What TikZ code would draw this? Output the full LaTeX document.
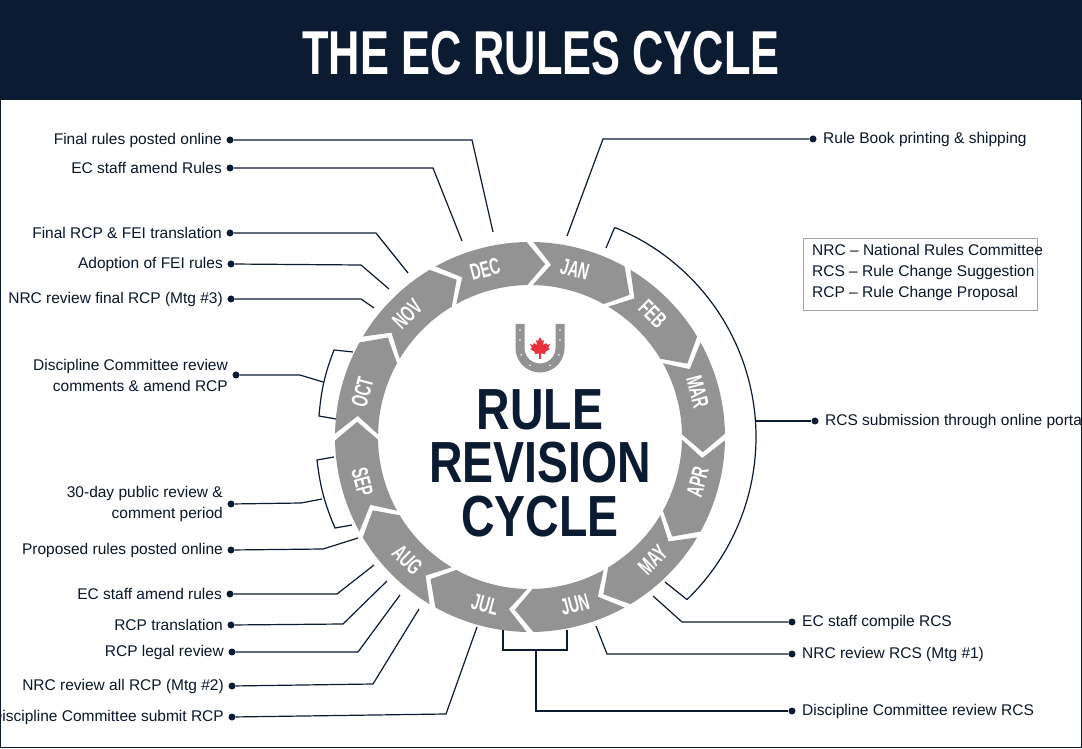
\documentclass[tikz,border=0pt]{standalone}
\usepackage{fontspec}
\usetikzlibrary{calc}
\setmainfont{Liberation Sans}
\newfontfamily\condb{Liberation Sans Bold}
\newfontfamily\lbl{Liberation Sans}
\definecolor{navy}{HTML}{0B1B31}
\definecolor{ringgray}{HTML}{939393}
\definecolor{leafred}{HTML}{E8313A}
\newcommand{\narrow}[2]{\scalebox{#1}[1]{#2}}
\begin{document}
\begin{tikzpicture}[x=1pt,y=1pt,
  conn/.style={draw=navy,line width=1.2pt},
  dotc/.style={circle,fill=navy,inner sep=0pt,minimum size=7pt},
  lbll/.style={anchor=east,font=\lbl\fontsize{15.5}{21}\selectfont,text=navy!85!black,align=right,inner sep=0pt},
  lblr/.style={anchor=west,font=\lbl\fontsize{15.5}{21}\selectfont,text=navy!85!black,align=left,inner sep=0pt},
  monthtxt/.style={font=\condb\fontsize{23}{23}\selectfont,text=white,inner sep=0pt}]
\useasboundingbox (0,0) rectangle (1082,748);
\fill[white] (0,0) rectangle (1082,748);
\fill[navy] (0,648) rectangle (1082,748);
\draw[navy,line width=1pt] (0.5,0.5) rectangle (1081.5,747.5);
\node[font=\condb\fontsize{62}{62}\selectfont,text=white] (title) at (541,695) {\narrow{0.7}{THE EC RULES CYCLE}};
% ring
\begin{scope}[shift={(530,311)}]
\foreach \m/\c/\r in {JAN/75/-15,FEB/45/-45,MAR/15/-75,APR/-15/75,MAY/-45/45,JUN/-75/15,JUL/-105/-15,AUG/-135/-45,SEP/-165/-75,OCT/165/75,NOV/135/45,DEC/105/15}{
  \fill[ringgray] (\c+14:195) arc[start angle=\c+14,end angle=\c-14,radius=195] -- (\c-20:173.5) -- (\c-14:152) arc[start angle=\c-14,end angle=\c+14,radius=152] -- (\c+8:173.5) -- cycle;
  \node[monthtxt,rotate=\r] (m\m) at (\c:173.5) {\narrow{0.62}{\m}};
}
\draw[conn] (68:226) arc[start angle=68,end angle=-46,radius=226];
\coordinate (arcS) at (68:226);
\coordinate (arcE) at (-46:226);
\end{scope}
\draw[conn] (arcS) -- (606,500);
\draw[conn] (arcE) -- (665,166);
% center
\draw[ringgray,line width=9pt] (520,424) -- (520,400) arc[start angle=180,end angle=360,radius=20] -- (560,424);
\foreach \a in {200,240,300,340}{\fill[white] ($(540,400)+(\a:20)$) circle (0.9pt);}
\fill[white] (520,418) circle (0.9pt) (520,408) circle (0.9pt) (560,418) circle (0.9pt) (560,408) circle (0.9pt);
\fill[leafred,shift={(540,400)}] (0,11)--(2,7)--(4,8)--(3,3)--(6,5)--(7,3)--(10,4)--(8,0)--(10,-1)--(5,-4)--(5.5,-6)--(0.8,-5.5)--(0.8,-11)--(-0.8,-11)--(-0.8,-5.5)--(-5.5,-6)--(-5,-4)--(-10,-1)--(-8,0)--(-10,4)--(-7,3)--(-6,5)--(-3,3)--(-4,8)--(-2,7)--cycle;
\node[font=\condb\fontsize{58}{58}\selectfont,text=navy] (c1) at (540,338) {\narrow{0.8}{RULE}};
\node[font=\condb\fontsize{58}{58}\selectfont,text=navy] (c2) at (540,285) {\narrow{0.8}{REVISION}};
\node[font=\condb\fontsize{58}{58}\selectfont,text=navy] (c3) at (540,231) {\narrow{0.8}{CYCLE}};
% left labels
\foreach \n/\x/\y/\t in {1/230/608/{Final rules posted online},2/230/580/{EC staff amend Rules},3/230/515/{Final RCP \& FEI translation},4/231/484/{Adoption of FEI rules},5/231/449/{NRC review final RCP (Mtg \#3)},6/236/373/{Discipline Committee review\\comments \& amend RCP},7/231/244/{30-day public review \&\\comment period},8/231/198/{Proposed rules posted online},9/230/154/{EC staff amend rules},10/231/123/{RCP translation},11/232/96/{RCP legal review},12/232/62/{NRC review all RCP (Mtg \#2)},13/232/31/{Discipline Committee submit RCP}}{
  \node[dotc] (d\n) at (\x,\y) {};
  \node[lbll] (t\n) at (\x-8,\y) {\t};
}
\draw[conn] (d1) -- (472,608) -- (493,516);
\draw[conn] (d2) -- (433,580) -- (462,507);
\draw[conn] (d3) -- (376,515) -- (408,475);
\draw[conn] (d4) -- (361,483) -- (389,459);
\draw[conn] (d5) -- (361,449) -- (374,440);
\draw[conn] (d6) -- (300,373) -- (323,366);
\draw[conn] (353,396) -- (334,398) to[bend right=8] (319,332) -- (336,329);
\draw[conn] (d7) -- (301,245) -- (322,249);
\draw[conn] (334,291) -- (317,288) to[bend right=8] (335,220) -- (352,223);
\draw[conn] (d8) -- (323,199) -- (358,210);
\draw[conn] (d9) -- (337,154) -- (374,183);
\draw[conn] (d10) -- (343,124) -- (387,167);
\draw[conn] (d11) -- (358,96) -- (400,153);
\draw[conn] (d12) -- (373,64) -- (419,139);
\draw[conn] (d13) -- (446,34) -- (477,121);
% right labels
\foreach \n/\x/\y/\t in {14/813/609/{Rule Book printing \& shipping},15/815/327/{RCS submission through online portal},16/792/37/{Discipline Committee review RCS},17/792/126/{EC staff compile RCS},18/792/94/{NRC review RCS (Mtg \#1)}}{
  \node[dotc] (d\n) at (\x,\y) {};
  \node[lblr] (t\n) at (\x+10,\y) {\t};
}
\draw[conn] (d14) -- (603,609) -- (567,512);
\draw[conn] (755,327) -- (d15);
\draw[conn] (503,118) -- (503,98) -- (567,98) -- (567,118);
\draw[conn] (536,98) -- (536,37) -- (d16);
\draw[conn] (d17) -- (682,126) -- (653,152);
\draw[conn] (d18) -- (607,94) -- (596,122);
% legend
\node[draw=gray!70,line width=1pt,minimum width=234pt,minimum height=72pt,anchor=north west,inner sep=0pt] (leg) at (803,510) {};
\node[lblr,anchor=north west,font=\lbl\fontsize{15.5}{21}\selectfont] (legt) at (812,504) {NRC – National Rules Committee\\RCS – Rule Change Suggestion\\RCP – Rule Change Proposal};
\end{tikzpicture}
\end{document}
